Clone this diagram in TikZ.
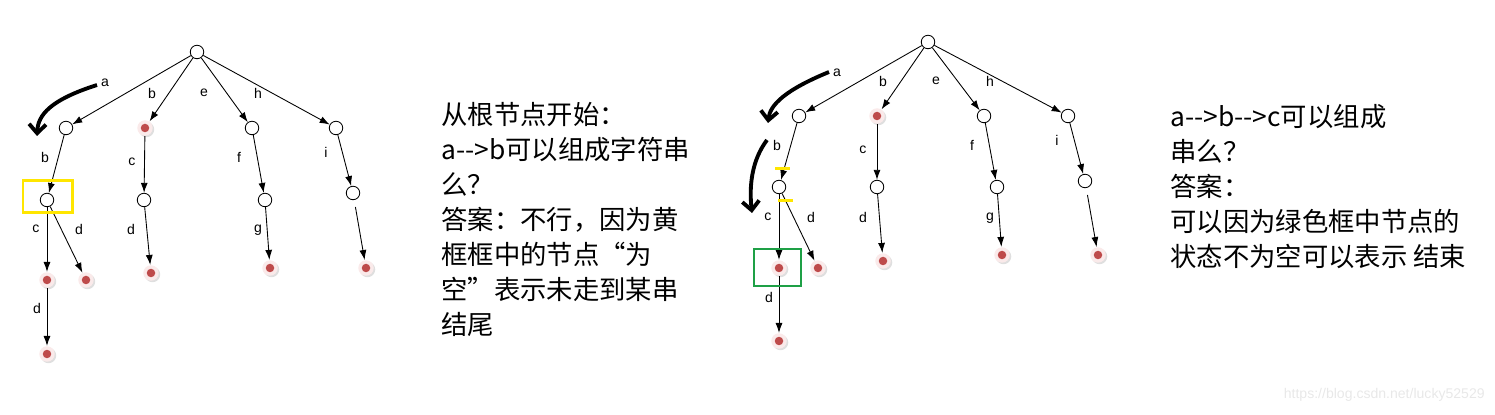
\documentclass[tikz,border=0pt]{standalone}
\usepackage{fontspec}
\setmainfont{Liberation Sans}
\newfontfamily\cjk{Noto Sans CJK SC}
\usetikzlibrary{arrows.meta,shadows}
\definecolor{leafred}{RGB}{190,75,75}
\definecolor{leafpink}{RGB}{250,234,234}
\definecolor{boxyellow}{RGB}{255,230,0}
\definecolor{boxgreen}{RGB}{30,160,70}
\definecolor{markgray}{RGB}{232,232,232}

\begin{document}
\begin{tikzpicture}[>={Latex[length=2mm,width=1.4mm]}, x=0.02cm, y=-0.02cm,
  knode/.style={circle, draw, line width=0.5pt, fill=white, minimum size=0.27cm, inner sep=0},
  leaf/.style={circle, fill=leafpink, minimum size=0.31cm, inner sep=0,
    drop shadow={shadow xshift=0.03cm, shadow yshift=-0.03cm, fill=black!25},
    path picture={\fill[leafred] (path picture bounding box.center) circle (0.085cm);}},
  lbl/.style={font=\fontsize{8pt}{9pt}\selectfont, inner sep=0},
  edge/.style={line width=0.5pt, ->},
  hand/.style={line width=2.2pt, -{Straight Barb[length=1.8mm,width=3.4mm]}},
  txt/.style={font=\cjk\fontsize{15pt}{19.9pt}\selectfont, align=left, anchor=north west, inner sep=0}]

  \useasboundingbox (0,0) rectangle (1495,415);

  % left trie
  \node[knode] (r1) at (197,52) {};
  \node[knode] (r1a) at (66,128) {};
  \node[leaf] (r1b) at (145,128) {};
  \node[knode] (r1e) at (252,128) {};
  \node[knode] (r1h) at (336,128) {};
  \node[knode] (r1ab) at (47,200) {};
  \node[knode] (r1bc) at (144,200) {};
  \node[knode] (r1ef) at (265,200) {};
  \node[knode] (r1hi) at (353,193) {};
  \node[leaf] (r1abc) at (47,280) {};
  \node[leaf] (r1abd) at (86,280) {};
  \node[leaf] (r1bcd) at (151,273) {};
  \node[leaf] (r1efg) at (270,268) {};
  \node[leaf] (r1hix) at (366,268) {};
  \node[leaf] (r1abcd) at (47,354) {};

  \draw[edge] (r1) -- (r1a);
  \draw[edge] (r1) -- (r1b);
  \draw[edge] (r1) -- (r1e);
  \draw[edge] (r1) -- (r1h);
  \draw[edge] (r1a) -- (r1ab);
  \draw[edge] (r1b) -- (r1bc);
  \draw[edge] (r1e) -- (r1ef);
  \draw[edge] (r1h) -- (r1hi);
  \draw[edge] (r1ab) -- (r1abc);
  \draw[edge] (r1ab) -- (r1abd);
  \draw[edge] (r1bc) -- (r1bcd);
  \draw[edge] (r1ef) -- (r1efg);
  \draw[edge, shorten <=0.14cm] (r1hi) -- (r1hix);
  \draw[edge] (r1abc) -- (r1abcd);

  \node[lbl] (l1a) at (105,83) {a};
  \node[lbl] (l1b) at (152,93) {b};
  \node[lbl] (l1e) at (204,93) {e};
  \node[lbl] (l1h) at (258,93) {h};
  \node[lbl] (l1ab) at (45,157) {b};
  \node[lbl] (l1bc) at (132,162) {c};
  \node[lbl] (l1ef) at (239,157) {f};
  \node[lbl] (l1hi) at (326,152) {i};
  \node[lbl] (l1abc) at (36,229) {c};
  \node[lbl] (l1abd) at (79,229) {d};
  \node[lbl] (l1bcd) at (131,229) {d};
  \node[lbl] (l1efg) at (258,230) {g};
  \node[lbl] (l1abcd) at (37,308) {d};

  \draw[boxyellow, line width=0.06cm] (23,181) rectangle (72,213);

  \coordinate (h1s) at (97,85);
  \coordinate (h1e) at (37,136);
  \draw[hand] (h1s) .. controls (50,100) and (38,115) .. (h1e);

  \node[txt] (t1) at (441,102) {从根节点开始：\\a-{}->b可以组成字符串\\么？\\答案：不行，因为黄\\框框中的节点“为\\空”表示未走到某串\\结尾};

  % right trie
  \node[knode] (r2) at (928,42) {};
  \node[knode] (r2a) at (799,116) {};
  \node[leaf] (r2b) at (877,116) {};
  \node[knode] (r2e) at (984,116) {};
  \node[knode] (r2h) at (1068,116) {};
  \node[knode] (r2ab) at (779,187) {};
  \node[knode] (r2bc) at (877,187) {};
  \node[knode] (r2ef) at (997,187) {};
  \node[knode] (r2hi) at (1085,181) {};
  \node[leaf] (r2abc) at (779,268) {};
  \node[leaf] (r2abd) at (818,268) {};
  \node[leaf] (r2bcd) at (883,261) {};
  \node[leaf] (r2efg) at (1002,255) {};
  \node[leaf] (r2hix) at (1098,255) {};
  \node[leaf] (r2abcd) at (779,341) {};

  \draw[edge] (r2) -- (r2a);
  \draw[edge] (r2) -- (r2b);
  \draw[edge] (r2) -- (r2e);
  \draw[edge] (r2) -- (r2h);
  \draw[edge] (r2a) -- (r2ab);
  \draw[edge] (r2b) -- (r2bc);
  \draw[edge] (r2e) -- (r2ef);
  \draw[edge] (r2h) -- (r2hi);
  \draw[edge] (r2ab) -- (r2abc);
  \draw[edge] (r2ab) -- (r2abd);
  \draw[edge] (r2bc) -- (r2bcd);
  \draw[edge] (r2ef) -- (r2efg);
  \draw[edge, shorten <=0.14cm] (r2hi) -- (r2hix);
  \draw[edge] (r2abc) -- (r2abcd);

  \node[lbl] (l2a) at (837,73) {a};
  \node[lbl] (l2b) at (883,81) {b};
  \node[lbl] (l2e) at (936,81) {e};
  \node[lbl] (l2h) at (990,81) {h};
  \node[lbl] (l2ab) at (777,145) {b};
  \node[lbl] (l2bc) at (863,150) {c};
  \node[lbl] (l2ef) at (972,145) {f};
  \node[lbl] (l2hi) at (1057,140) {i};
  \node[lbl] (l2abc) at (768,217) {c};
  \node[lbl] (l2abd) at (811,217) {d};
  \node[lbl] (l2bcd) at (863,217) {d};
  \node[lbl] (l2efg) at (990,218) {g};
  \node[lbl] (l2abcd) at (769,297) {d};

  \draw[boxgreen, line width=0.05cm] (754,249) rectangle (801,286);
  \draw[boxyellow, line width=0.06cm] (775,169) -- (790,169);
  \draw[boxyellow, line width=0.06cm] (778,201) -- (793,201);

  \coordinate (h2s) at (829,72);
  \coordinate (h2e) at (768,123);
  \draw[hand] (h2s) .. controls (785,90) and (770,105) .. (h2e);
  \coordinate (h3s) at (767,140);
  \coordinate (h3e) at (752,213);
  \draw[hand] (h3s) .. controls (752,160) and (749,185) .. (h3e);

  \node[txt] (t2) at (1170,104) {a-{}->b-{}->c可以组成\\串么？\\答案：\\可以因为绿色框中节点的\\状态不为空可以表示 结束};

  \node[font=\fontsize{8pt}{9pt}\selectfont, text=markgray, anchor=east, inner sep=0] (wm) at (1485,395) {https://blog.csdn.net/lucky52529};

\end{tikzpicture}
\end{document}
